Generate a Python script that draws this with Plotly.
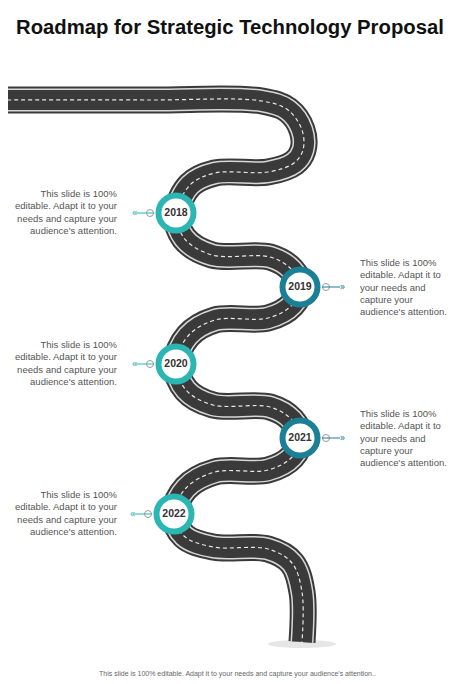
import plotly.graph_objects as go

# road centerline waypoints (pixel space)
road_x = [0, 150, 262, 288, 302, 303, 294, 268, 215, 190, 177, 184, 212, 270, 292, 300, 292, 268, 215, 188, 176, 186, 213, 270, 292, 300, 292, 268, 215, 186, 174, 184, 213, 268, 292, 302, 302]
road_y = [100, 100, 101, 110, 130, 150, 163, 172, 173, 185, 213, 238, 255, 257, 270, 287, 305, 318, 320, 336, 364, 390, 405, 407, 420, 438, 457, 470, 472, 488, 514, 536, 547, 549, 563, 592, 642]

years = ["2018", "2019", "2020", "2021", "2022"]
year_x = [176, 300, 176, 300, 174]
year_y = [213, 287, 364, 438, 514]
year_colors = ["#2bb5b3", "#1b7f95", "#2bb5b3", "#1b7f95", "#2bb5b3"]
sides = ["left", "right", "left", "right", "left"]

left_text = "This slide is 100%<br>editable. Adapt it to your<br>needs and capture your<br>audience's attention."
right_text = "This slide is 100%<br>editable. Adapt it to<br>your needs and<br>capture your<br>audience's attention."

fig = go.Figure()

# road layers
for w, c in [(27, "#3a3a3a"), (23, "#d8d8d8"), (20, "#3a3a3a")]:
    fig.add_trace(go.Scatter(x=road_x, y=road_y, mode="lines",
                             line=dict(color=c, width=w, shape="spline", smoothing=1.0),
                             hoverinfo="skip"))
fig.add_trace(go.Scatter(x=road_x, y=road_y, mode="lines",
                         line=dict(color="#e8e8e8", width=1.2, dash="4px,3px", shape="spline", smoothing=1.0),
                         hoverinfo="skip"))

# shadow under road end
fig.add_shape(type="circle", x0=268, x1=336, y0=640, y1=648, fillcolor="#e6e6e6", line_width=0, layer="below")

for yr, x, y, c, s in zip(years, year_x, year_y, year_colors, sides):
    d = -1 if s == "left" else 1
    # connector
    fig.add_shape(type="line", x0=x + d * 22, x1=x + d * 40, y0=y, y1=y, line=dict(color=c, width=1))
    fig.add_trace(go.Scatter(x=[x + d * 26], y=[y], mode="markers",
                             marker=dict(size=7, color="white", line=dict(color="#9a9a9a", width=1)),
                             hoverinfo="skip"))
    fig.add_annotation(x=x + d * 42, y=y, text="»" if d > 0 else "«", showarrow=False,
                       font=dict(size=10, color=c), yshift=1)
    # year ring
    fig.add_trace(go.Scatter(x=[x], y=[y], mode="markers+text", text=[f"<b>{yr}</b>"],
                             textfont=dict(size=10.5, color="#333333", family="Arial"),
                             marker=dict(size=35, color="white", line=dict(color=c, width=6)),
                             hoverinfo="skip"))
    if s == "left":
        fig.add_annotation(x=119, y=y - 1, text=left_text, showarrow=False, xanchor="right", align="right",
                           font=dict(size=9.5, color="#555555", family="Arial"))
    else:
        fig.add_annotation(x=358, y=y, text=right_text, showarrow=False, xanchor="left", align="left",
                           font=dict(size=9.5, color="#555555", family="Arial"))

fig.add_annotation(x=14, y=27, text="<b>Roadmap for Strategic Technology Proposal</b>", showarrow=False,
                   xanchor="left", font=dict(size=20.3, color="#111111", family="Arial"))
fig.add_annotation(x=237, y=674, text="This slide is 100% editable. Adapt it to your needs and capture your audience's attention..",
                   showarrow=False, font=dict(size=7, color="#666666", family="Arial"))

# page has an 8px body margin, so the figure is offset by that much
fig.update_xaxes(range=[8, 474], visible=False, fixedrange=True)
fig.update_yaxes(range=[684, 8], visible=False, fixedrange=True)
fig.update_layout(width=466, height=676, margin=dict(l=0, r=0, t=0, b=0), showlegend=False,
                  plot_bgcolor="white", paper_bgcolor="white")
fig.write_html("out.html")
